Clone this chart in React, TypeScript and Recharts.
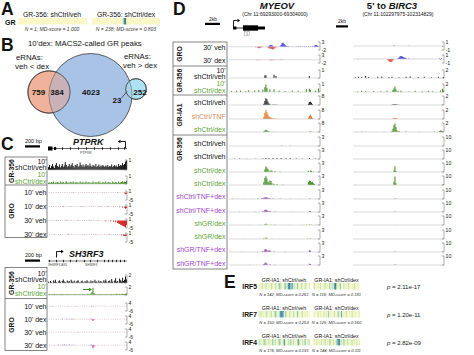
import React from 'react';
import { BarChart, Bar, XAxis, YAxis, ReferenceLine, Cell, ScatterChart, Scatter } from 'recharts';

type Pair = [number, number];

// ================= DATA =================
// ---- Panel A ----
const aTitles = ['GR-356: shCtrl/veh', 'GR-356: shCtrl/dex'];
const aStats = ['N = 1; MD-score = 1.000', 'N = 238; MD-score = 0.803'];
const aVehLevels = [0,0,0,0,0,0,0,0,0,0,0,0,0,0,0,0,0,0,0,0,0,0,0,0,0,0,0,0,0,0,0,0,0,0,0,0,0,0,0,0];
const aDexLevels = [0,0,0,0,0,0,0,0,0,0,0,0,0,0,0,0,0,0,2,5,1,0,0,0,0,0,0,0,0,0,0,0,0,0,0,0,0,0,0,0];

// ---- Panel B (Venn region counts) ----
const vennUpOnly = 759;      // eRNAs veh<dex only
const vennUpAndGR = 384;     // eRNAs veh<dex & GR peaks
const vennGROnly = 4023;     // GR peaks only
const vennDownAndGR = 23;    // eRNAs veh>dex & GR peaks
const vennDownOnly = 252;    // eRNAs veh>dex only

// ---- Panel C : PTPRK ----
const ptprkVeh = [0.3,0.5,0.2,0.4,0.6,0.35,0.2,0.5,0.7,0.4,0.3,0.55,0.25,0.4,0.6,0.3,0.45,0.8,0.5,0.3,0.4,0.6,0.35,0.5,0.7,0.4,0.25,0.5,0.45,0.6,0.3,0.4,0.75,0.5,0.35,0.55,0.3,0.45,0.6,0.4,0.5,0.35,0.65,0.4,0.3,0.5,0.45,0.35,0.6,0.3,0.4,0.55,0.3,0.45,0.35,0.5,0.4,0.3,0.45,0.35,0.5,0.3,0.4,0.35,0.55,0.3,0.4,0.5,0.35,0.45,0.3,0.6,0.4,0.5,0.45,0.7,0.5,0.6,0.85,0.95];
const ptprkDex = [0.15,0.2,0.1,0.25,0.15,0.3,0.1,0.2,0.15,0.25,0.2,0.1,0.3,0.15,0.2,0.25,0.1,0.2,0.35,0.15,0.2,0.1,0.25,0.2,0.15,0.3,0.1,0.2,0.25,0.15,0.2,0.1,0.3,0.2,0.15,0.25,0.1,0.2,0.3,0.15,0.2,0.25,0.1,0.2,0.15,0.3,0.2,0.1,0.25,0.15,0.2,0.35,0.15,0.2,0.1,0.25,0.2,0.15,0.3,0.1,0.2,0.25,0.15,0.2,0.1,0.3,0.2,0.15,0.25,0.2,0.1,0.3,0.15,0.2,0.25,0.35,0.2,0.3,0.25,0.4];
const ptprkGro10Veh: Pair[] = [[10,-0.2],[25,-0.3],[40,-0.2],[55,-0.2],[70,-0.3],[77,-0.5],[78,-1.2],[79,-0.8]];
const ptprkGro10Dex: Pair[] = [[5,-0.2],[15,-0.3],[22,-0.2],[33,-0.3],[44,-0.2],[52,-0.3],[60,-0.4],[66,-0.3],[72,-0.5],[75,-0.6],[77,-0.8],[78,-1.5],[79,-1.0]];
const ptprkGro30Veh: Pair[] = [[8,-0.3],[18,-0.3],[30,-0.4],[42,-0.3],[50,-0.4],[58,-0.5],[63,-0.6],[66,-0.8],[68,-1.2],[70,-1.6],[71,-2.0],[72,-2.4],[73,-2.8],[74,-3.2],[75,-3.5],[76,-3.8],[77,-4.2],[78,-4.5],[79,-3.0]];
const ptprkGro30Dex: Pair[] = [[6,-0.2],[20,-0.3],[35,-0.2],[48,-0.3],[62,-0.3],[70,-0.4],[74,-0.6],[76,-0.8],[77,-1.0],[78,-1.2],[79,-0.6]];

// ---- Panel C : SH3RF3 ----
const sh3rf3Veh = [0.3,0,0.5,0.2,0,0.6,0.3,0.8,0.2,0,0.4,0.7,0.3,0,0.5,0.9,0.4,0.2,0,0.6,0.3,0.5,0,0.8,0.4,0.2,0.6,0,0.3,0.5,0.7,0.2,0,0.4,0.6,0.3,0,0.5,0.2,0.7,0.4,0,0.3,0.6,0.2,0.5,0,0.8,0.3,0.4,0,0.6,0.2,0.5,0.3,0,0.7,0.4,0.9,0.3,0,0.5,0.6,0.2,1.0,0.4,0,0.6,1.2,0.3,0.5,0,1.1,0.7,0.4,1.3,0.5,0.8,1.6,0.9];
const sh3rf3Dex = [0.1,0.2,0.1,0.15,0.2,0.1,0.25,0.1,0.2,0.15,0.1,0.2,0.15,0.25,0.1,0.2,0.1,0.15,0.2,0.1,0.25,0.15,0.1,0.2,0.15,0.1,0.2,0.25,0.1,0.15,0.2,0.1,0.2,0.15,0.1,0.25,0.2,0.1,0.15,0.2,0.3,0.2,0.25,0.4,0.7,1.8,0.5,0.3,0.2,0.15,0.2,0.1,0.25,0.15,0.2,0.1,0.2,0.15,0.25,0.1,0.2,0.15,0.1,0.2,0.25,0.15,0.2,0.1,0.2,0.3,0.15,0.2,0.25,0.1,0.2,0.3,0.2,0.25,0.3,0.35];
const sh3rf3Gro10VehPos: Pair[] = [[4,0.3],[20,0.3],[28,0.4],[45,0.2]];
const sh3rf3Gro10VehNeg: Pair[] = [[14,-0.2],[44,-0.3]];
const sh3rf3Gro10DexPos: Pair[] = [[8,0.3],[14,0.5],[18,0.6],[20,0.4],[24,0.7],[26,0.3],[40,0.3],[43,0.5]];
const sh3rf3Gro10DexNeg: Pair[] = [[22,-0.3],[44,-0.6],[45,-2.2],[46,-1.0]];
const sh3rf3Gro30VehPos: Pair[] = [[30,0.1]];
const sh3rf3Gro30VehNeg: Pair[] = [[45,-0.2]];
const sh3rf3Gro30DexPos: Pair[] = [[6,0.3],[10,0.5],[14,0.6],[16,0.8],[18,0.6],[21,0.9],[24,0.7],[27,0.4],[41,0.3],[43,0.6]];
const sh3rf3Gro30DexNeg: Pair[] = [[44,-0.8],[45,-3.8],[46,-2.0],[47,-0.5]];

// ---- Panel D : MYEOV ----
const myeovGroVehPos: Pair[] = [[39,0.4],[40,0.9],[41,1.3],[42,1.0],[43,0.4],[50,0.4],[51,1.2],[52,2.2],[53,2.5],[54,1.8],[55,1.0],[56,0.6],[57,0.4],[58,0.3],[59,0.2],[62,0.15],[66,0.25],[68,0.3],[70,0.3],[72,0.25],[74,0.3],[76,0.35],[78,0.3],[80,0.3],[82,0.4],[84,0.6],[85,0.9],[86,1.0],[87,0.6],[88,0.3]];
const myeovGroVehNeg: Pair[] = [[26,-0.3],[28,-0.6],[29,-0.9],[30,-0.8],[31,-0.5],[32,-0.3],[38,-0.4],[39,-0.8],[40,-1.2],[41,-1.0],[42,-1.4],[43,-1.7],[44,-1.2],[45,-0.6],[46,-0.3],[48,-0.2]];
const myeovGroDexPos: Pair[] = [[41,0.2],[45,0.15],[48,0.25],[51,0.3],[53,0.2],[58,0.1]];
const myeovGroDexNeg: Pair[] = [[27,-0.25],[29,-0.35],[31,-0.2],[40,-0.3],[42,-0.4],[44,-0.2]];
const myeov356Veh10: Pair[] = [[35,0.3],[36,0.35],[44,0.4],[46,0.25],[79,0.25]];
const myeov356Dex10: Pair[] = [[2,0.12],[7,0.15],[11,0.2],[16,0.1],[19,0.22],[25,0.18],[29,0.25],[33,0.3],[35,0.6],[36,0.95],[37,0.5],[40,0.3],[44,0.35],[49,0.2],[55,0.12],[62,0.2],[68,0.15],[76,0.35],[79,0.4],[80,0.25],[85,0.2],[88,0.45]];
const myeovIa1Veh: Pair[] = [[34,1.2],[35,3.6],[36,6.0],[37,5.2],[38,3.0],[39,1.4],[40,0.6],[43,0.4],[45,0.5],[47,0.3],[78,1.2],[79,2.6],[80,3.0],[81,2.1],[82,0.7]];
const myeovIa1Tnf: Pair[] = [[34,2],[35,5.5],[36,7.8],[37,6],[38,4],[39,2.5],[40,1.8],[41,1.2],[42,0.8],[44,0.6],[46,0.4],[78,1.2],[79,3],[80,3.8],[81,2.5],[82,0.8]];
const myeovIa1Dex: Pair[] = [[10,0.1],[20,0.1],[34,0.6],[35,1.4],[36,1.9],[37,1.5],[38,0.9],[39,0.4],[42,0.3],[45,0.2],[79,0.3],[80,0.4],[81,0.2]];
const myeov356Rows: Pair[][] = [
  [[52,0.1],[60,0.05]],
  [[5,0.1],[10,0.15],[17,0.1],[26,0.12],[33,0.2],[36,0.35],[39,0.3],[43,0.35],[47,0.3],[51,0.3],[56,0.25],[60,0.3],[66,0.15],[72,0.12],[79,0.3],[85,0.15]],
  [[35,0.8],[36,1.8],[37,1.5],[38,0.9],[39,0.5],[41,0.6],[42,0.4],[45,0.35],[50,0.15],[78,0.3],[80,0.5],[81,0.4],[83,0.2]],
  [[34,1.0],[35,2.4],[36,2.9],[37,2.2],[38,1.2],[39,0.8],[40,1.5],[41,1.3],[42,0.6],[44,0.4],[47,0.3],[53,0.2],[78,1.0],[79,1.5],[80,1.3],[81,0.9],[82,1.1],[83,0.6],[84,0.3]],
  [[3,0.1],[8,0.1],[14,0.12],[22,0.1],[28,0.15],[32,0.3],[34,0.4],[35,0.5],[36,0.6],[37,0.5],[38,0.4],[40,0.35],[43,0.2],[50,0.15],[60,0.1],[70,0.1],[79,0.2],[85,0.1]],
  [[10,0.1],[25,0.1],[33,0.3],[35,0.7],[36,0.8],[37,0.6],[38,0.4],[40,0.3],[45,0.15],[62,0.1],[79,0.35],[80,0.3]],
  [[20,0.1],[30,0.1],[35,0.3],[36,0.5],[37,0.3],[41,0.2],[45,0.15],[60,0.1],[72,0.1],[76,0.2],[79,0.25],[81,0.2],[86,0.1]],
  [[15,0.1],[34,0.3],[36,0.6],[37,0.4],[42,0.15],[50,0.1],[77,0.2],[80,0.25],[85,0.1]],
  [[12,0.1],[28,0.1],[33,0.3],[35,0.8],[36,1.0],[37,0.7],[39,0.6],[40,0.5],[44,0.2],[55,0.1],[79,0.6],[80,0.4]],
  [[20,0.1],[34,0.3],[35,0.6],[36,0.8],[37,0.5],[40,0.25],[45,0.1],[79,0.4],[80,0.3]],
];

// ---- Panel D : 5' to BIRC3 ----
const birc3GroVehPos: Pair[] = [[40,0.1],[55,0.05]];
const birc3GroVehNeg: Pair[] = [[88,-0.1]];
const birc3GroDexPos: Pair[] = [[44,0.2],[45,0.4],[46,0.6],[47,0.75],[48,0.7],[49,0.5],[50,0.4],[51,0.3],[52,0.2],[55,0.1],[60,0.05],[85,0.15],[87,0.2]];
const birc3GroDexNeg: Pair[] = [[5,-0.05],[34,-0.2],[35,-0.5],[36,-0.7],[37,-0.8],[38,-0.6],[39,-0.3],[86,-0.1]];
const birc3356Veh10: Pair[] = [[2,0.2],[5,0.3],[8,0.2],[12,0.5],[15,0.25],[24,0.3],[28,0.35],[35,0.25],[38,0.3],[45,0.2],[52,0.3],[56,0.35],[64,0.25],[70,0.3],[77,0.2],[84,0.3],[89,0.25]];
const birc3356Dex10: Pair[] = [[4,0.15],[8,0.3],[12,0.2],[20,0.25],[27,0.2],[33,0.3],[39,0.5],[40,0.9],[41,1.4],[42,0.7],[44,0.3],[47,0.35],[55,0.15],[61,0.3],[68,0.2],[74,0.3],[78,0.2],[86,0.4],[88,0.8],[89,0.3]];
const birc3Ia1Veh: Pair[] = [[38,0.05],[39,0.12],[40,0.15],[41,0.15],[42,0.12],[43,0.1],[45,0.05],[88,0.05]];
const birc3Ia1Tnf: Pair[] = [[39,0.1],[40,0.2],[41,0.3],[42,0.2],[43,0.12]];
const birc3Ia1Dex: Pair[] = [[3,0.05],[8,0.1],[12,0.05],[30,0.05],[38,0.25],[39,0.7],[40,1.5],[41,1.9],[42,1.1],[43,0.4],[45,0.2],[52,0.1],[65,0.05],[80,0.1],[85,0.2],[86,0.35],[87,0.3],[88,0.15]];
const birc3356Rows: Pair[][] = [
  [[41,0.1]],
  [[41,0.1]],
  [[2,0.3],[40,2.0],[41,6.5],[42,1.2],[89,0.3]],
  [[2,0.2],[40,3.5],[41,9.5],[42,2.0],[88,0.4],[89,0.6]],
  [[2,0.2],[41,0.6],[42,0.3]],
  [[2,0.15],[41,0.5]],
  [[41,0.3]],
  [[41,0.4],[89,0.2]],
  [[2,0.1],[41,0.5]],
  [[41,0.5],[42,0.2]],
];
const dLowerLabels = ['shCtrl/veh','shCtrl/veh','shCtrl/dex','shCtrl/dex','shCtrl/TNF+dex','shCtrl/TNF+dex','shGR/dex','shGR/dex','shGR/TNF+dex','shGR/TNF+dex'];

// ---- Panel E ----
const eGenes = ['IRF5', 'IRF7', 'IRF4'];
const ePValues = ['2.11e-17', '1.20e-11', '2.82e-09'];
const eVehStats = ['N = 142; MD-score = 0.261', 'N = 150; MD-score = 0.253', 'N = 176; MD-score = 0.191'];
const eDexStats = ['N = 116; MD-score = 0.181', 'N = 125; MD-score = 0.160', 'N = 144; MD-score = 0.111'];
const irf5Veh = [0,1,0,2,0,1,2,0,1,0,2,1,0,2,1,0,3,2,1,0,2,3,1,4,5,3,4,1,2,0,3,1,0,2,1,0,2,1,0,1];
const irf5Dex = [0,2,0,0,1,0,2,0,0,1,2,0,1,0,3,0,2,1,4,5,2,0,1,3,0,0,2,0,1,0,2,0,0,1,0,2,0,0,1,0];
const irf7Veh = [0,1,2,0,1,0,2,1,0,1,2,0,1,3,2,0,2,4,5,4,0,3,1,0,2,1,0,2,1,0,3,1,0,1,2,0,1,0,1,0];
const irf7Dex = [0,1,0,0,2,0,1,0,0,2,0,1,0,3,0,1,0,0,2,0,0,3,1,0,4,0,1,0,2,0,0,1,0,2,0,0,1,0,0,1];
const irf4Veh = [0,2,1,0,2,3,1,0,2,1,0,3,1,2,0,1,3,2,0,2,4,1,0,2,1,3,0,2,1,0,2,4,1,0,2,1,3,0,1,2];
const irf4Dex = [0,1,0,2,0,1,0,2,0,1,2,0,1,0,3,1,0,2,0,1,3,4,5,1,2,0,3,1,0,2,1,0,1,2,0,1,0,2,0,1];

// ================= STYLE =================
const FONT = '"Liberation Sans", Arial, Helvetica, sans-serif';
const C_BLACK = '#141414';
const C_GREEN = '#3a8a18';
const C_LGREEN = '#7cba3c';
const C_ORANGE = '#e26f18';
const C_PURPLE = '#8230a8';
const C_BLUE = '#2024c8';
const C_RED = '#d42222';
const L_GREEN = '#5ea532';
const L_ORANGE = '#d98a5a';
const L_PURPLE = '#a447c8';
const HEAT = ['#fbf7c6', '#e2f0b2', '#bde1b0', '#84c6b8', '#4a9db6', '#2a6594'];
const AXW = 13;
const PAD = 3;
const N_D = 90;

function toBins(n: number, pos: Pair[], neg: Pair[] = []) {
  const rows: { b: number; p: number; n: number }[] = [];
  for (let b = 0; b < n; b++) rows.push({ b, p: 0, n: 0 });
  pos.forEach(([b, v]) => { rows[b].p = v; });
  neg.forEach(([b, v]) => { rows[b].n = v; });
  return rows;
}
function fromDense(vals: number[]) {
  return vals.map((v, b) => ({ b, p: v, n: 0 }));
}

function Track(props: { left: number; top: number; w: number; h: number; data: any[]; color: string; negColor?: string; min: number; max: number; dashed?: boolean }) {
  const { left, top, w, h, data, color, negColor, min, max, dashed } = props;
  const renderTick = (tp: any) => {
    const { x, y, payload } = tp;
    const v = payload.value;
    return (
      <g>
        <line x1={x - 2.2} x2={x} y1={y} y2={y} stroke="#777" strokeWidth={0.6} />
        {v !== 0 && (
          <text x={x + 1.6} y={y} dy="0.36em" fontSize={5.2} fontFamily={FONT} fill="#222">{v}</text>
        )}
      </g>
    );
  };
  return (
    <div style={{ position: 'absolute', left, top: top - PAD }}>
      <BarChart width={w + AXW} height={h + 2 * PAD} data={data} margin={{ top: PAD, right: 0, bottom: PAD, left: 0 }} barCategoryGap={0} barGap={0} stackOffset="sign">
        <XAxis dataKey="b" hide />
        <YAxis orientation="right" domain={[min, max]} ticks={[min, max]} interval={0} width={AXW} tickSize={0} tickMargin={0} tickLine={false} axisLine={{ stroke: '#777', strokeWidth: 0.6 }} tick={renderTick} allowDataOverflow />
        <ReferenceLine y={0} stroke={dashed ? '#c8a4a4' : '#c4c4c4'} strokeWidth={0.6} strokeDasharray={dashed ? '1 1.2' : undefined} />
        <Bar dataKey="p" stackId="s" fill={color} isAnimationActive={false} />
        {negColor ? <Bar dataKey="n" stackId="s" fill={negColor} isAnimationActive={false} /> : null}
      </BarChart>
    </div>
  );
}

function Strip(props: { left: number; top: number; w: number; h: number; levels: number[] }) {
  const { left, top, w, h, levels } = props;
  const data = levels.map((l, i) => ({ i, one: 1, l }));
  return (
    <div style={{ position: 'absolute', left, top }}>
      <BarChart width={w} height={h} data={data} margin={{ top: 0, right: 0, bottom: 0, left: 0 }} barCategoryGap={0} barGap={0}>
        <XAxis dataKey="i" hide />
        <YAxis hide domain={[0, 1]} allowDataOverflow />
        <Bar dataKey="one" isAnimationActive={false}>
          {data.map((d, i) => <Cell key={i} fill={HEAT[d.l]} stroke={HEAT[d.l]} strokeWidth={0.3} />)}
        </Bar>
      </BarChart>
    </div>
  );
}

// Venn layout (centres in page px); radii derived from set totals (area-proportional)
const vennCenters = { up: [49, 92], gr: [90.5, 95], down: [136, 89] };
function Venn() {
  const grTotal = vennGROnly + vennUpAndGR + vennDownAndGR;
  const upTotal = vennUpOnly + vennUpAndGR;
  const downTotal = vennDownOnly + vennDownAndGR;
  const radius = (count: number) => 41.5 * Math.sqrt(count / grTotal);
  const shape = (op: number) => (p: any) => (
    <circle cx={p.cx} cy={p.cy} r={radius(p.payload.z)} fill={p.payload.fill} fillOpacity={op} stroke="#3a3a3a" strokeWidth={0.8} />
  );
  const ernaPts = [
    { x: vennCenters.up[0], y: vennCenters.up[1], z: upTotal, fill: '#f6c2aa' },
    { x: vennCenters.down[0], y: vennCenters.down[1], z: downTotal, fill: '#b2e5f4' },
  ];
  const ernaOver = [
    { x: vennCenters.up[0], y: vennCenters.up[1], z: upTotal, fill: '#e9a189' },
    { x: vennCenters.down[0], y: vennCenters.down[1], z: downTotal, fill: '#a8e0f2' },
  ];
  const grPts = [{ x: vennCenters.gr[0], y: vennCenters.gr[1], z: grTotal, fill: '#a8c3e5' }];
  return (
    <div style={{ position: 'absolute', left: 0, top: 0 }}>
      <ScatterChart width={160} height={150} margin={{ top: 0, right: 0, bottom: 0, left: 0 }}>
        <XAxis type="number" dataKey="x" domain={[0, 160]} hide allowDataOverflow />
        <YAxis type="number" dataKey="y" domain={[0, 150]} reversed hide allowDataOverflow />
        <Scatter data={ernaPts} shape={shape(1)} isAnimationActive={false} />
        <Scatter data={grPts} shape={shape(1)} isAnimationActive={false} />
        <Scatter data={ernaOver} shape={shape(0.5)} isAnimationActive={false} />
      </ScatterChart>
    </div>
  );
}

const T = (p: { x: number; y: number; s?: number; a?: 'start' | 'middle' | 'end'; b?: boolean; i?: boolean; c?: string; children: any }) => (
  <text x={p.x} y={p.y} fontSize={p.s ?? 7} textAnchor={p.a ?? 'start'} fontWeight={p.b ? 700 : 400} fontStyle={p.i ? 'italic' : 'normal'} fill={p.c ?? '#111'} fontFamily={FONT}>{p.children}</text>
);
const RT = (p: { x: number; y: number; s?: number; children: any }) => (
  <text transform={`translate(${p.x},${p.y}) rotate(-90)`} fontSize={p.s ?? 6.8} textAnchor="middle" fontWeight={700} fill="#111" fontFamily={FONT} dy="0.35em">{p.children}</text>
);

// D row layout
const dRows = [
  { top: 42.2, h: 8, color: C_BLUE, neg: C_RED, m: [myeovGroVehPos, myeovGroVehNeg], mMin: -2, mMax: 3, bd: [birc3GroVehPos, birc3GroVehNeg], bMin: -1, bMax: 1 },
  { top: 55.2, h: 8, color: C_BLUE, neg: C_RED, m: [myeovGroDexPos, myeovGroDexNeg], mMin: -2, mMax: 3, bd: [birc3GroDexPos, birc3GroDexNeg], bMin: -1, bMax: 1 },
  { top: 70, h: 8, color: C_BLACK, m: [myeov356Veh10], mMin: 0, mMax: 1, bd: [birc3356Veh10], bMin: 0, bMax: 2 },
  { top: 84, h: 8, color: C_GREEN, m: [myeov356Dex10], mMin: 0, mMax: 1, bd: [birc3356Dex10], bMin: 0, bMax: 2 },
  { top: 96, h: 9, color: C_BLACK, m: [myeovIa1Veh], mMin: 0, mMax: 8, bd: [birc3Ia1Veh], bMin: 0, bMax: 2 },
  { top: 109.5, h: 9, color: C_ORANGE, m: [myeovIa1Tnf], mMin: 0, mMax: 8, bd: [birc3Ia1Tnf], bMin: 0, bMax: 2 },
  { top: 123, h: 9, color: C_GREEN, m: [myeovIa1Dex], mMin: 0, mMax: 8, bd: [birc3Ia1Dex], bMin: 0, bMax: 2 },
];
const dLowerTrackColors = [C_BLACK, C_BLACK, C_GREEN, C_GREEN, C_PURPLE, C_PURPLE, C_LGREEN, C_LGREEN, C_PURPLE, C_PURPLE];
const dLowerLabelColors = ['#111', '#111', L_GREEN, L_GREEN, L_PURPLE, L_PURPLE, L_GREEN, L_GREEN, L_PURPLE, L_PURPLE];
const dLowerBase = (k: number) => 145.5 + k * 13.3;

export default function App() {
  const ptprkGro = [ptprkGro10Veh, ptprkGro10Dex, ptprkGro30Veh, ptprkGro30Dex];
  const ptprkZero = [192, 206, 220, 234];
  const shPos = [sh3rf3Gro10VehPos, sh3rf3Gro10DexPos, sh3rf3Gro30VehPos, sh3rf3Gro30DexPos];
  const shNeg = [sh3rf3Gro10VehNeg, sh3rf3Gro10DexNeg, sh3rf3Gro30VehNeg, sh3rf3Gro30DexNeg];
  const shZero = [306.5, 319.5, 332.5, 345.5];
  const eVeh = [irf5Veh, irf7Veh, irf4Veh];
  const eDex = [irf5Dex, irf7Dex, irf4Dex];
  const eTop = [282, 310, 338];
  const groLabels = ["10' veh", "10' dex", "30' veh", "30' dex"];

  return (
    <div style={{ position: 'absolute', left: 0, top: 0, width: 474, height: 355, background: '#fff', overflow: 'hidden' }}>
      {/* Panel A strips */}
      <Strip left={18} top={18} w={69} h={6.5} levels={aVehLevels} />
      <Strip left={92} top={18} w={68} h={6.5} levels={aDexLevels} />

      {/* Panel B */}
      <Venn />

      {/* Panel C PTPRK */}
      <Track left={48} top={160} w={79} h={10} data={fromDense(ptprkVeh)} color={C_BLACK} min={0} max={1} />
      <Track left={48} top={176} w={79} h={8} data={fromDense(ptprkDex)} color={C_GREEN} min={0} max={1} />
      {ptprkGro.map((g, i) => (
        <Track key={'pg' + i} left={48} top={ptprkZero[i] - 1.5} w={79} h={9} data={toBins(80, [], g)} color={C_RED} negColor={C_RED} min={-5} max={1} dashed />
      ))}

      {/* Panel C SH3RF3 */}
      <Track left={48} top={275} w={79} h={8} data={fromDense(sh3rf3Veh)} color={C_BLACK} min={0} max={2} />
      <Track left={48} top={287} w={79} h={8} data={fromDense(sh3rf3Dex)} color={C_GREEN} min={0} max={2} />
      {shPos.map((g, i) => (
        <Track key={'sg' + i} left={48} top={shZero[i] - 3.2} w={79} h={8} data={toBins(80, g, shNeg[i])} color="#4a4ac4" negColor="#cc2a88" min={-6} max={4} dashed />
      ))}

      {/* Panel D upper rows */}
      {dRows.map((r, i) => (
        <React.Fragment key={'dr' + i}>
          <Track left={229} top={r.top} w={91} h={r.h} data={toBins(N_D, r.m[0], r.m[1] || [])} color={r.color} negColor={r.neg} min={r.mMin} max={r.mMax} />
          <Track left={353} top={r.top} w={91} h={r.h} data={toBins(N_D, r.bd[0], r.bd[1] || [])} color={r.color} negColor={r.neg} min={r.bMin} max={r.bMax} />
        </React.Fragment>
      ))}
      {/* Panel D lower rows */}
      {dLowerLabels.map((_, k) => (
        <React.Fragment key={'dl' + k}>
          <Track left={229} top={dLowerBase(k) - 9} w={91} h={9} data={toBins(N_D, myeov356Rows[k])} color={dLowerTrackColors[k]} min={0} max={3} />
          <Track left={353} top={dLowerBase(k) - 9} w={91} h={9} data={toBins(N_D, birc3356Rows[k])} color={dLowerTrackColors[k]} min={0} max={10} />
        </React.Fragment>
      ))}

      {/* Panel E strips */}
      {eGenes.map((g, k) => (
        <React.Fragment key={'e' + k}>
          <Strip left={258} top={eTop[k] + 1} w={52} h={6.5} levels={eVeh[k]} />
          <Strip left={313} top={eTop[k] + 1} w={47} h={6.5} levels={eDex[k]} />
        </React.Fragment>
      ))}

      {/* Text & annotation overlay */}
      <svg width={474} height={355} style={{ position: 'absolute', left: 0, top: 0, pointerEvents: 'none' }}>
        {/* Panel letters */}
        <T x={1} y={15} s={17.5} b>A</T>
        <T x={1} y={51} s={17.5} b>B</T>
        <T x={1} y={150} s={17.5} b>C</T>
        <T x={173} y={15} s={17.5} b>D</T>
        <T x={224} y={288} s={17.5} b>E</T>

        {/* Panel A */}
        <T x={5} y={25} s={7} b>GR</T>
        <T x={52} y={16.5} s={6.8} a="middle">{aTitles[0]}</T>
        <T x={126} y={16.5} s={6.8} a="middle">{aTitles[1]}</T>
        <T x={52} y={31} s={5} a="middle" i c="#333">{aStats[0]}</T>
        <T x={126} y={31} s={5} a="middle" i c="#333">{aStats[1]}</T>

        {/* Panel B */}
        <T x={28} y={46} s={7.8}>10'dex: MACS2-called GR peaks</T>
        <T x={16} y={60} s={7.8}>eRNAs:</T>
        <T x={15} y={69} s={7.8}>veh &lt; dex</T>
        <T x={124} y={59} s={7.8}>eRNAs:</T>
        <T x={123} y={68} s={7.8}>veh &gt; dex</T>
        <T x={38.5} y={95} s={8} a="middle" b>{vennUpOnly}</T>
        <T x={57} y={95} s={8} a="middle" b>{vennUpAndGR}</T>
        <T x={91} y={95} s={8} a="middle" b>{vennGROnly}</T>
        <T x={117} y={103} s={8} a="middle" b>{vennDownAndGR}</T>
        <T x={140} y={95} s={8} a="middle" b>{vennDownOnly}</T>
        <line x1={121.5} y1={98} x2={127} y2={91.5} stroke="#222" strokeWidth={0.7} />

        {/* Panel C upper: PTPRK */}
        <T x={25} y={143} s={5.5}>200 bp</T>
        <rect x={25} y={145.3} width={15} height={2.2} fill="#000" />
        <T x={73} y={144.5} s={9} b i>PTPRK</T>
        <path d="M125.5,148 V141.5 H120.5" stroke="#000" strokeWidth={0.9} fill="none" />
        <polygon points="120.5,139.8 117.8,141.5 120.5,143.2" fill="#000" />
        <line x1={48} x2={127} y1={148.5} y2={148.5} stroke="#000" strokeWidth={0.6} />
        <rect x={48} y={146.5} width={4.5} height={4} fill="#000" />
        <rect x={54} y={147} width={2.2} height={3} fill="#000" />
        {[62, 70, 78, 86, 94, 102, 110, 118, 124].map((x) => <rect key={'pe' + x} x={x} y={147.2} width={0.8} height={2.6} fill="#000" />)}
        <T x={80} y={154} s={3.6} c="#444">PTPRK</T>
        <rect x={5} y={157} width={42} height={80.5} fill="none" stroke="#666" strokeWidth={0.8} />
        <line x1={5} x2={47} y1={185} y2={185} stroke="#666" strokeWidth={0.8} />
        <RT x={11.5} y={171}>GR-356</RT>
        <RT x={11.5} y={211}>GRO</RT>
        <T x={46.5} y={163.5} s={7} a="end">10'</T>
        <T x={46.5} y={170} s={7} a="end">shCtrl/veh</T>
        <T x={46.5} y={177} s={7} a="end" c={L_GREEN}>10'</T>
        <T x={46.5} y={183.5} s={7} a="end" c={L_GREEN}>shCtrl/dex</T>
        {groLabels.map((l, i) => <T key={'pl' + i} x={46.5} y={ptprkZero[i] + 2.5} s={7} a="end">{l}</T>)}

        {/* Panel C lower: SH3RF3 */}
        <T x={25} y={257} s={5.5}>200 bp</T>
        <rect x={25} y={259.5} width={15} height={2.2} fill="#000" />
        <path d="M56.5,257.5 V251.5 H61" stroke="#000" strokeWidth={0.9} fill="none" />
        <polygon points="61,249.8 63.7,251.5 61,253.2" fill="#000" />
        <T x={69} y={257} s={9} b i>SH3RF3</T>
        <line x1={48} x2={127} y1={261} y2={261} stroke="#000" strokeWidth={0.5} />
        {[49, 56, 63, 70, 76, 84, 90, 97, 104, 108, 112, 116, 120, 124].map((x) => <rect key={'se' + x} x={x} y={259.8} width={0.8} height={2.4} fill="#000" />)}
        <T x={48} y={266} s={3.2} c="#444">SH3RF3-AS1</T>
        <T x={85} y={266} s={3.2} c="#444">SH3RF3</T>
        <line x1={83} x2={89} y1={289.5} y2={289.5} stroke={C_GREEN} strokeWidth={1} />
        <polygon points="89,287.8 92,289.5 89,291.2" fill={C_GREEN} />
        <rect x={5} y={267.5} width={42} height={83} fill="none" stroke="#666" strokeWidth={0.8} />
        <line x1={5} x2={47} y1={298.5} y2={298.5} stroke="#666" strokeWidth={0.8} />
        <RT x={11.5} y={283}>GR-356</RT>
        <RT x={11.5} y={325}>GRO</RT>
        <T x={46.5} y={275.5} s={7} a="end">10'</T>
        <T x={46.5} y={282} s={7} a="end">shCtrl/veh</T>
        <T x={46.5} y={289} s={7} a="end" c={L_GREEN}>10'</T>
        <T x={46.5} y={295.5} s={7} a="end" c={L_GREEN}>shCtrl/dex</T>
        {groLabels.map((l, i) => <T key={'sl' + i} x={46.5} y={shZero[i] + 2.5} s={7} a="end">{l}</T>)}

        {/* Panel D headers */}
        <T x={277} y={9} s={9.5} a="middle" b i>MYEOV</T>
        <T x={275} y={16} s={5} a="middle">(Chr 11:69293000-69304000)</T>
        <text x={392} y={9} fontSize={9.5} textAnchor="middle" fontWeight={700} fontFamily={FONT} fill="#111">5' to <tspan fontStyle="italic">BIRC3</tspan></text>
        <T x={398} y={16} s={5} a="middle">(Chr 11:102297975-102314829)</T>
        <T x={213} y={21} s={5} a="middle">2kb</T>
        <rect x={205} y={22.8} width={15} height={2.2} fill="#000" />
        <T x={342} y={23} s={5} a="middle">2kb</T>
        <rect x={336} y={25.3} width={12} height={2.2} fill="#000" />
        <path d="M233.5,28 V20.5 H237.5" stroke="#000" strokeWidth={0.9} fill="none" />
        <polygon points="237.5,18.8 240.2,20.5 237.5,22.2" fill="#000" />
        <line x1={233} x2={265} y1={28} y2={28} stroke="#000" strokeWidth={0.8} />
        <rect x={233} y={26.5} width={3.5} height={3} fill="#000" />
        <rect x={243} y={25.3} width={15} height={5.4} fill="#000" />
        <rect x={258} y={26.5} width={7} height={3} fill="#000" />
        <rect x={244.5} y={31.5} width={5} height={4} fill="none" stroke="#777" strokeWidth={0.4} />
        <T x={247} y={34.8} s={3} a="middle" c="#444">5</T>

        {/* Panel D label box */}
        <rect x={173} y={42} width={54} height={227} fill="none" stroke="#666" strokeWidth={0.8} />
        {[66, 95, 135].map((y) => <line key={'dd' + y} x1={173} x2={227} y1={y} y2={y} stroke="#666" strokeWidth={0.8} />)}
        <RT x={179.5} y={54}>GRO</RT>
        <RT x={179.5} y={80.5}>GR-356</RT>
        <RT x={179.5} y={115}>GR-IA1</RT>
        <RT x={179.5} y={149}>GR-356</RT>
        <T x={225.5} y={49.5} s={7} a="end">30' veh</T>
        <T x={225.5} y={62.5} s={7} a="end">30' dex</T>
        <T x={225.5} y={72.5} s={7} a="end">10'</T>
        <T x={225.5} y={78.5} s={7} a="end">shCtrl/veh</T>
        <T x={225.5} y={86} s={7} a="end" c={L_GREEN}>10'</T>
        <T x={225.5} y={92.5} s={7} a="end" c={L_GREEN}>shCtrl/dex</T>
        <T x={225.5} y={105} s={7} a="end">shCtrl/veh</T>
        <T x={225.5} y={118.5} s={7} a="end" c={L_ORANGE}>shCtrl/TNF</T>
        <T x={225.5} y={132} s={7} a="end" c={L_GREEN}>shCtrl/dex</T>
        {dLowerLabels.map((l, k) => <T key={'dlt' + k} x={225.5} y={dLowerBase(k) + 0.5} s={7} a="end" c={dLowerLabelColors[k]}>{l}</T>)}

        {/* Panel E text */}
        {eGenes.map((g, k) => (
          <g key={'et' + k}>
            <T x={284} y={eTop[k]} s={5.3} a="middle">GR-IA1: shCtrl/veh</T>
            <T x={336.5} y={eTop[k]} s={5.3} a="middle">GR-IA1: shCtrl/dex</T>
            <T x={257} y={eTop[k] + 6.5} s={6.8} a="end" b>{g}</T>
            <T x={284} y={eTop[k] + 13.5} s={4.1} a="middle" i c="#333">{eVehStats[k]}</T>
            <T x={336.5} y={eTop[k] + 13.5} s={4.1} a="middle" i c="#333">{eDexStats[k]}</T>
            <text x={387} y={eTop[k] + 6.5} fontSize={6} fontFamily={FONT} fill="#222"><tspan fontStyle="italic">p</tspan> = {ePValues[k]}</text>
          </g>
        ))}
      </svg>
    </div>
  );
}
